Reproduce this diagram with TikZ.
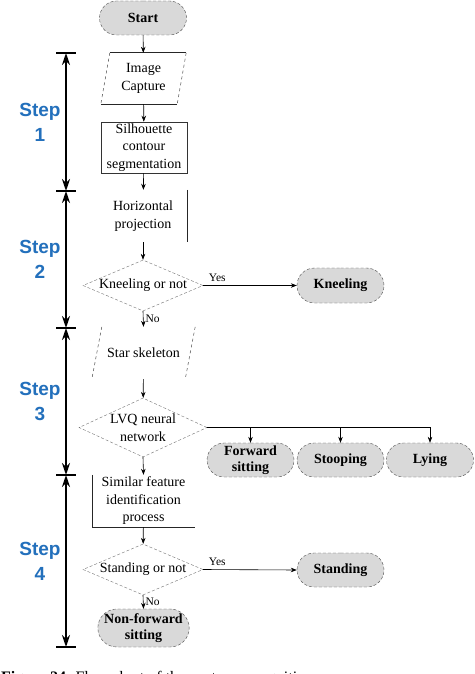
\documentclass[tikz,border=0pt]{standalone}
\usepackage{fontspec}
\setmainfont{Liberation Serif}
\newfontfamily\stepfont{Liberation Sans}
\usetikzlibrary{shapes.geometric,shapes.misc,arrows.meta,calc}
\definecolor{stepblue}{RGB}{35,112,188}
\begin{document}
\begin{tikzpicture}[x=1pt,y=-1pt,
  every node/.style={font=\fontsize{14}{17.5}\selectfont, align=center},
  pill/.style={rounded rectangle, draw=black!70, densely dashed, fill=black!15,
    minimum width=87pt, minimum height=34pt, inner sep=0pt,
    font=\fontsize{14}{15.5}\selectfont\bfseries},
  dia/.style={diamond, draw=black!55, densely dashed, inner sep=0pt},
  plain/.style={inner sep=0pt},
  edgeline/.style={line width=0.6pt, draw=black!85},
  dashside/.style={line width=0.5pt, draw=black!70, dashed},
  flow/.style={-{Stealth[length=6pt,width=4.5pt]}, line width=0.6pt},
  lbl/.style={font=\fontsize{11.5}{13}\selectfont, inner sep=1pt},
  stepbar/.style={line width=2pt},
  steparrow/.style={{Stealth[length=12pt,width=8pt]}-{Stealth[length=12pt,width=8pt]}, line width=2pt},
  steplabel/.style={text=stepblue, font=\fontsize{19}{25}\selectfont\stepfont\bfseries}
]
\clip (0,0) rectangle (474,674);
\fill[white] (0,0) rectangle (474,674);

% step brackets
\coordinate (b1) at (66,53);
\coordinate (b2) at (66,191);
\coordinate (b3) at (66,328);
\coordinate (b4) at (66,475);
\coordinate (b5) at (66,647);
\foreach \b in {b1,b2,b3,b4,b5}{\draw[stepbar] ($(\b)+(-10,0)$) -- ($(\b)+(10,0)$);}
\draw[steparrow] (b1) -- (b2);
\draw[steparrow] (b2) -- (b3);
\draw[steparrow] (b3) -- (b4);
\draw[steparrow] (b4) -- (b5);
\node[steplabel] (s1) at (40,122) {Step\\1};
\node[steplabel] (s2) at (40,259.5) {Step\\2};
\node[steplabel] (s3) at (40,401.5) {Step\\3};
\node[steplabel] (s4) at (40,561) {Step\\4};

% nodes
\node[pill] (start) at (143,18) {Start};
\node[plain, minimum width=85pt, minimum height=51pt] (ic) at (143.5,78.5) {Image\\Capture};
\draw[edgeline] ($(ic.north west)+(9,0)$) -- (ic.north east);
\draw[edgeline] (ic.south west) -- ($(ic.south east)+(-9,0)$);
\draw[dashside] ($(ic.north west)+(9,0)$) -- (ic.south west);
\draw[dashside] (ic.north east) -- ($(ic.south east)+(-9,0)$);

\node[plain, draw=black!80, line width=0.5pt, minimum width=86pt, minimum height=51pt] (sil) at (144,147.5) {Silhouette\\contour\\segmentation};

\node[plain, minimum width=88pt, minimum height=52pt] (hp) at (143,216) {Horizontal\\projection};
\draw[edgeline] (hp.north east) -- (hp.south east);

\node[dia, aspect=2.35, minimum width=120pt, minimum height=51pt] (kn) at (143,285.5) {Kneeling or not};
\node[pill, minimum height=35pt] (kneel) at (340.5,285.5) {Kneeling};

\node[plain, minimum width=103pt, minimum height=52pt] (star) at (143.5,353) {Star skeleton};
\draw[dashside] ($(star.north west)+(10,0)$) -- (star.south west);
\draw[dashside] (star.north east) -- ($(star.south east)+(-10,0)$);

\node[dia, aspect=2.17, inner sep=-2.5pt, minimum width=128pt, minimum height=59pt] (lvq) at (143,427.5) {LVQ neural\\network};
\node[pill] (fs) at (250.5,460) {Forward\\sitting};
\node[pill] (st) at (340.5,460) {Stooping};
\node[pill] (ly) at (430,460) {Lying};

\node[plain, minimum width=103pt, minimum height=52pt] (sim) at (143.5,501) {Similar feature\\identification\\process};
\draw[edgeline] (sim.north west) -- (sim.south west) -- (sim.south east);

\node[dia, aspect=2.35, minimum width=120pt, minimum height=51pt] (sd) at (143,569.5) {Standing or not};
\node[pill] (stand) at (340.5,570) {Standing};
\node[pill, minimum width=85pt, minimum height=38pt] (nf) at (143.5,628) {Non-forward\\sitting};

% connectors
\draw[flow] (start) -- (ic);
\draw[flow] (ic) -- (sil);
\draw[flow] (sil) -- (hp);
\draw[flow] (hp) -- (kn);
\draw[flow] (kn.east) -- node[lbl, pos=0.15, anchor=south, yshift=3pt] {Yes} (kneel.west);
\draw[flow] (kn.south) -- node[lbl, right, xshift=1pt] {No} (star.north);
\draw[flow] (star) -- (lvq);
\draw[flow] (lvq.east) -| (ly.north);
\draw[flow] (fs.north |- lvq.east) -- (fs.north);
\draw[flow] (st.north |- lvq.east) -- (st.north);
\draw[flow] (lvq.south) -- (sim.north);
\draw[flow] (sim) -- (sd);
\draw[flow] (sd.east) -- node[lbl, pos=0.15, anchor=south, yshift=3pt] {Yes} (stand.west);
\draw[flow] (sd.south) -- node[lbl, right, xshift=1pt] {No} (nf.north);

% caption (cut off at the bottom edge)
\node[anchor=base west, inner sep=0pt, font=\fontsize{16}{18}\selectfont] (cap) at (1,682.5) {\textbf{Figure 24.} Flow chart of the posture recognition process};
\end{tikzpicture}
\end{document}
